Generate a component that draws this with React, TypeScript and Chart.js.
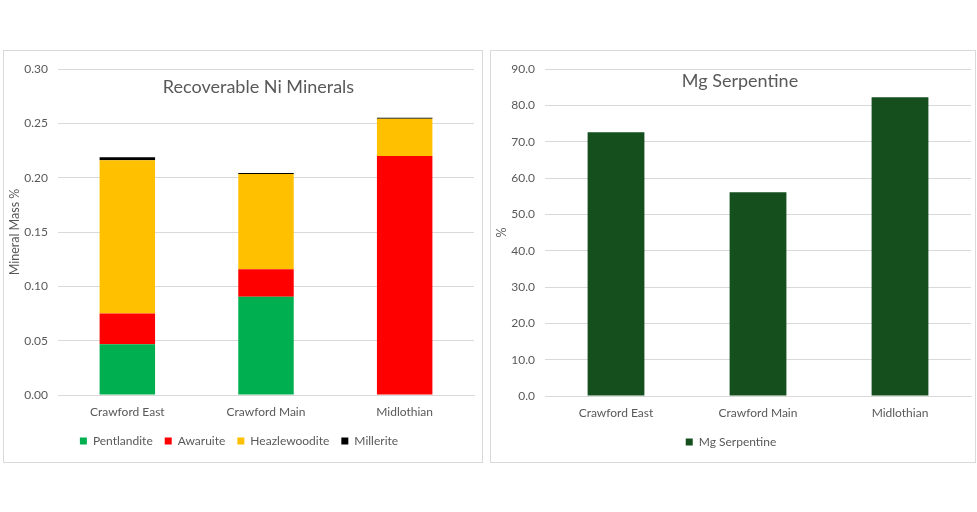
import React, { useEffect, useRef } from "react";
import { Chart, registerables } from "chart.js";

Chart.register(...registerables);

const categories = ["Crawford East", "Crawford Main", "Midlothian"];
const pentlandite = [0.0467, 0.0903, 0];
const awaruite = [0.0283, 0.0255, 0.22];
const heazlewoodite = [0.141, 0.0875, 0.0343];
const millerite = [0.0027, 0.001, 0.0008];
const mgSerpentine = [72.6, 56.1, 82.2];

const FONT = "Lato, 'Open Sans', sans-serif";
const TEXT = "#595959";
const GRID = "#d9d9d9";

function titlePlugin(text: string, x: number, y: number) {
  return {
    id: "inTitle",
    afterDraw(chart: any) {
      const ctx = chart.ctx;
      ctx.save();
      ctx.font = `18px ${FONT}`;
      ctx.fillStyle = TEXT;
      ctx.textAlign = "center";
      ctx.textBaseline = "alphabetic";
      ctx.fillText(text, x, y);
      ctx.restore();
    },
  };
}

function baseOptions(yMax: number, step: number, decimals: number, yTitle: string, yTitlePad: number, padRight: number, padBottom: number, stacked: boolean) {
  return {
    responsive: false,
    animation: false,
    layout: { padding: { top: 18, right: padRight, left: 0, bottom: padBottom } },
    plugins: {
      legend: {
        position: "bottom",
        labels: { boxWidth: 7, boxHeight: 7, padding: 12, color: TEXT, font: { family: FONT, size: 12 } },
      },
      title: { display: false },
      tooltip: { enabled: false },
    },
    scales: {
      x: {
        stacked,
        grid: { display: false, drawTicks: false },
        border: { display: true, color: GRID },
        ticks: { color: TEXT, padding: 10, font: { family: FONT, size: 12 } },
        afterFit: (s: any) => { s.height = 28; },
      },
      y: {
        stacked,
        min: 0,
        max: yMax,
        grid: { color: GRID, drawTicks: false },
        border: { display: false },
        ticks: {
          stepSize: step,
          padding: 10,
          color: TEXT,
          font: { family: FONT, size: 12 },
          callback: (v: any) => Number(v).toFixed(decimals),
        },
        title: { display: true, text: yTitle, color: TEXT, padding: { top: yTitlePad, bottom: 0 }, font: { family: FONT, size: 12.5 } },
        afterFit: (s: any) => { s.width = 54; },
      },
    },
  };
}

function NiChart() {
  const ref = useRef<HTMLCanvasElement>(null);
  useEffect(() => {
    const chart = new Chart(ref.current!, {
      type: "bar",
      data: {
        labels: categories,
        datasets: [
          { label: "Pentlandite", data: pentlandite, backgroundColor: "#00b050", barPercentage: 0.4, categoryPercentage: 1 },
          { label: "Awaruite", data: awaruite, backgroundColor: "#ff0000", barPercentage: 0.4, categoryPercentage: 1 },
          { label: "Heazlewoodite", data: heazlewoodite, backgroundColor: "#ffc000", barPercentage: 0.4, categoryPercentage: 1 },
          { label: "Millerite", data: millerite, backgroundColor: "#000000", barPercentage: 0.4, categoryPercentage: 1 },
        ],
      },
      options: baseOptions(0.3, 0.05, 2, "Mineral Mass %", 3, 8, 5, true) as any,
      plugins: [titlePlugin("Recoverable Ni Minerals", 254.5, 42.3)],
    });
    return () => chart.destroy();
  }, []);
  return <canvas ref={ref} width={478} height={411} style={{ display: "block" }} />;
}

function MgChart() {
  const ref = useRef<HTMLCanvasElement>(null);
  useEffect(() => {
    const chart = new Chart(ref.current!, {
      type: "bar",
      data: {
        labels: categories,
        datasets: [
          { label: "Mg Serpentine", data: mgSerpentine, backgroundColor: "#154f1e", barPercentage: 0.4, categoryPercentage: 1 },
        ],
      },
      options: baseOptions(90, 10, 1, "%", 3, 4, 4, false) as any,
      plugins: [titlePlugin("Mg Serpentine", 249, 36.3)],
    });
    return () => chart.destroy();
  }, []);
  return <canvas ref={ref} width={484} height={411} style={{ display: "block" }} />;
}

export default function App() {
  const panel: React.CSSProperties = {
    position: "absolute",
    top: 50,
    height: 411,
    border: "1px solid #d9d9d9",
    background: "#fff",
  };
  return (
    <div>
      <div style={{ ...panel, left: 3, width: 478 }}>
        <NiChart />
      </div>
      <div style={{ ...panel, left: 490, width: 484 }}>
        <MgChart />
      </div>
    </div>
  );
}
